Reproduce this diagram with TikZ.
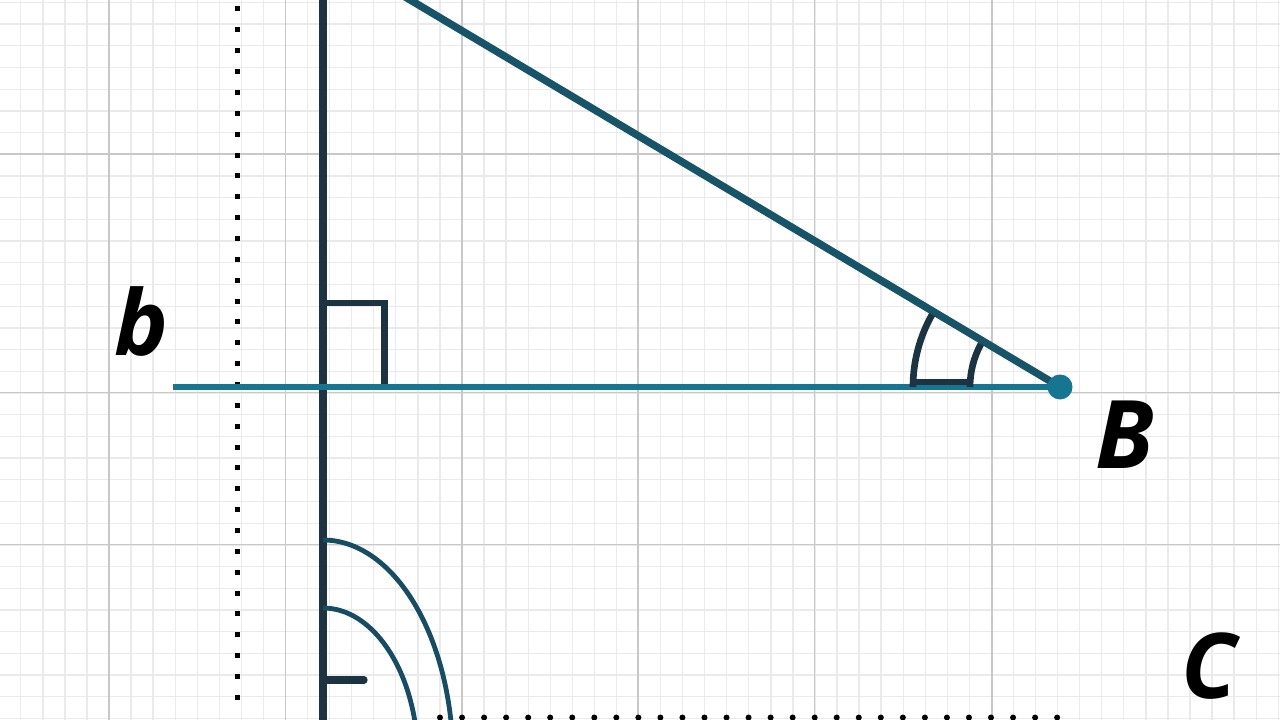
\documentclass[tikz,border=0pt]{standalone}
\usepackage{fontspec}
\newfontfamily\labfont{Open Sans}
\usetikzlibrary{calc}
\definecolor{navy}{RGB}{28,52,66}
\definecolor{tealbase}{RGB}{22,118,145}
\definecolor{hypcol}{RGB}{24,84,104}
\definecolor{arccol}{RGB}{24,76,98}
\definecolor{gridminor}{RGB}{234,234,234}
\definecolor{gridmajor}{RGB}{200,200,200}
\tikzset{
  minorline/.style={draw=gridminor, line width=1pt},
  majorline/.style={draw=gridmajor, line width=1.2pt},
  navyline/.style={draw=navy, line width=5.4pt},
  baseline/.style={draw=tealbase, line width=5pt},
  hypline/.style={draw=hypcol, line width=5.6pt},
  anglemark/.style={draw=navy, line width=5pt},
  bottomarc/.style={draw=arccol, line width=3.6pt},
  lab/.style={font=\labfont\bfseries\itshape, text=black, inner sep=0pt, anchor=base}
}
\begin{document}
\begin{tikzpicture}[x=0.75pt,y=-0.75pt]
\useasboundingbox (0,0) rectangle (1280,720);
\fill[white] (0,0) rectangle (1280,720);
\begin{scope}
\clip (0,0) rectangle (1280,720);
% grid
\foreach \i in {-1,...,58} {\draw[minorline] ({20.8+22.06*\i},0) -- ({20.8+22.06*\i},720);}
\foreach \j in {0,...,33} {\draw[minorline] (0,{2.4+21.7*\j}) -- (1280,{2.4+21.7*\j});}
\foreach \x in {108.9,285.4,461.9,638.2,814.6,991.7} {\draw[majorline] (\x,0) -- (\x,720);}
\foreach \y in {154.3,392.5,544.3} {\draw[majorline] (0,\y) -- (1280,\y);}
% key points
\coordinate (A) at (323,-52);
\coordinate (B) at (1060,387);
\coordinate (F) at (323,387);
\coordinate (L) at (173,387);
\coordinate (Vtop) at (323,-5);
\coordinate (Vbot) at (323,725);
% dotted vertical line
\foreach \k in {0,...,33} {\fill[black] (235,{6.5+20.86*\k}) rectangle ++(5,5);}
% dotted bottom line
\foreach \k in {0,...,28} {\fill[black] ({440+22.04*\k},717.5) circle[radius=3];}
% black bar bottom-left
\draw[black, line width=7.5pt, line cap=round] (183,725) -- (287,725);
% vertical line
\draw[navyline] (Vtop) -- (Vbot);
% right angle mark
\draw[anglemark, line join=miter] (323,303) -- (384.5,303) -- (384.5,387);
% baseline
\draw[baseline] (L) -- (B);
% hypotenuse
\draw[hypline] (A) -- (B);
% angle marks at B
\draw[anglemark] ($(B)+(180:147)$) arc[start angle=180, end angle=209.5, radius=147];
\draw[anglemark] ($(B)+(180:90)$) arc[start angle=180, end angle=208.5, radius=90];
\draw[anglemark] (913,382) -- (970,382);
% bottom arcs
\draw[bottomarc] (323,540) arc[start angle=-90, end angle=-5, x radius=130, y radius=220];
\draw[bottomarc] (323,608) arc[start angle=-90, end angle=-5, x radius=95, y radius=152];
\draw[navy, line width=5.5pt, line cap=round] (323,680) -- (364,680);
% B dot
\fill[tealbase] (B) circle[radius=12.5];
% labels
\node[lab, font=\labfont\bfseries\itshape\fontsize{68}{68}\selectfont] (lb) at (141,355) {b};
\node[lab, font=\labfont\bfseries\itshape\fontsize{71}{71}\selectfont] (lB) at (1125,468) {B};
\node[lab, font=\labfont\bfseries\itshape\fontsize{68}{68}\selectfont] (lC) at (1209,698) {C};
\end{scope}
\end{tikzpicture}
\end{document}
